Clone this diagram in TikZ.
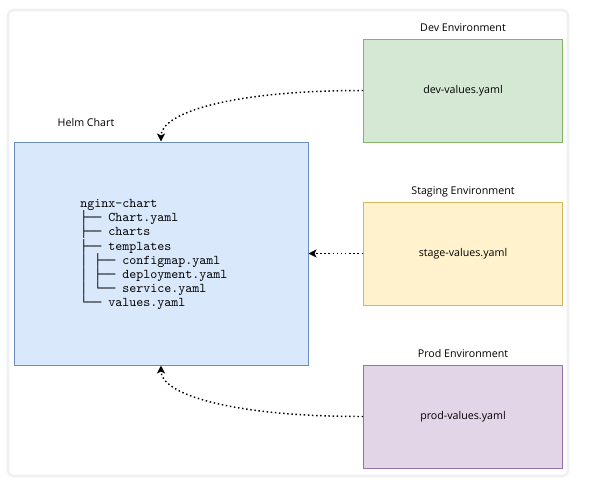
\documentclass[tikz,border=0pt]{standalone}
\usepackage{fontspec}
\setmainfont{Open Sans}
\newfontfamily\treefont[Scale=0.872]{DejaVu Sans Mono}
\usetikzlibrary{arrows.meta}

\definecolor{helmfill}{HTML}{DAE8FC}
\definecolor{helmdraw}{HTML}{6C8EBF}
\definecolor{devfill}{HTML}{D5E8D4}
\definecolor{devdraw}{HTML}{82B366}
\definecolor{stagefill}{HTML}{FFF2CC}
\definecolor{stagedraw}{HTML}{D6B656}
\definecolor{prodfill}{HTML}{E1D5E7}
\definecolor{proddraw}{HTML}{9673A6}

\newcommand{\br}[1]{{\treefont #1}}

\tikzset{
    envbox/.style={draw=#1draw, fill=#1fill, line width=0.75pt, minimum width=149.25pt, minimum height=77.25pt, font=\fontsize{8}{10}\selectfont},
    envlabel/.style={inner sep=0pt, font=\fontsize{8}{10}\selectfont},
    treetext/.style={anchor=north west, inner sep=0pt, align=left, font=\fontsize{10}{10.65}\selectfont\ttfamily},
    valuearrow/.style={dotted, line width=1.1pt, -{Stealth[length=6pt, width=6pt, inset=1.5pt]}},
}

\begin{document}
\begin{tikzpicture}[x=0.75pt, y=-0.75pt]
    \useasboundingbox (0,0) rectangle (590,487);
    \draw[gray!12, line width=1.9pt, rounded corners=4pt] (8,10) rectangle (568,476);

    % chart and the three environments
    \node[draw=helmdraw, fill=helmfill, line width=0.75pt, minimum width=220.5pt, minimum height=167.25pt] (helm) at (161,253.5) {};
    \node[envbox=dev] (dev) at (463,90.5) {dev-values.yaml};
    \node[envbox=stage] (stage) at (463,253.5) {stage-values.yaml};
    \node[envbox=prod] (prod) at (463,416.5) {prod-values.yaml};

    \node[envlabel, anchor=base] (helmlabel) at (86,126) {Helm Chart};
    \node[envlabel, anchor=base] (devlabel) at (463,31) {Dev Environment};
    \node[envlabel, anchor=base] (stagelabel) at (463,194) {Staging Environment};
    \node[envlabel, anchor=base] (prodlabel) at (463,357) {Prod Environment};

    \node[treetext] (tree) at (80,199) {nginx-chart\\
        \br{├──}~Chart.yaml\\
        \br{├──}~charts\\
        \br{├──}~templates\\
        \br{│}~\br{├──}~configmap.yaml\\
        \br{│}~\br{├──}~deployment.yaml\\
        \br{│}~\br{└──}~service.yaml\\
        \br{└──}~values.yaml};

    \draw[valuearrow] (dev.west) .. controls +(-135,0) and +(0,-28) .. (helm.north);
    \draw[valuearrow] (stage.west) -- (helm.east);
    \draw[valuearrow] (prod.west) .. controls +(-135,0) and +(0,28) .. (helm.south);
\end{tikzpicture}
\end{document}
